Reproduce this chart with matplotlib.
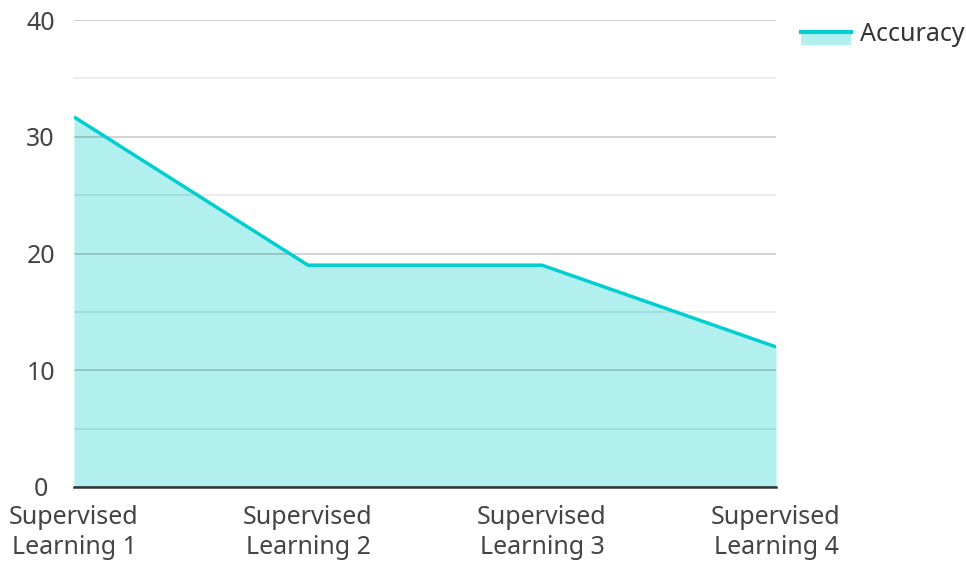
import matplotlib.pyplot as plt
from matplotlib.legend_handler import HandlerBase
from matplotlib.patches import Rectangle
from matplotlib.lines import Line2D

categories = ["Supervised\nLearning 1", "Supervised\nLearning 2",
              "Supervised\nLearning 3", "Supervised\nLearning 4"]
accuracy = [31.7, 19, 19, 12]

plt.rcParams['font.family'] = ['Noto Sans', 'DejaVu Sans']

line_c = "#00CED1"
fill_c = "#B2EFEF"


class AreaHandler(HandlerBase):
    # line at text middle, filled strip underneath
    def create_artists(self, legend, orig_handle, xdescent, ydescent,
                       width, height, fontsize, trans):
        mid = height * 0.5 - ydescent
        depth = height * 0.8
        rect = Rectangle((-xdescent, mid - depth), width, depth,
                         facecolor=fill_c, edgecolor='none', transform=trans)
        ln = Line2D([-xdescent, -xdescent + width], [mid, mid],
                    color=line_c, lw=3, transform=trans)
        return [rect, ln]


fig = plt.figure(figsize=(9.66, 5.62), dpi=100)
ax = fig.add_axes([74/966, 75/562, 702/966, 467/562])

x = list(range(len(categories)))
ax.fill_between(x, accuracy, 0, color=fill_c, lw=0, zorder=1)
ax.plot(x, accuracy, color=line_c, lw=2.5, zorder=3, solid_capstyle='butt')

ax.set_xlim(0, len(categories) - 1)
ax.set_ylim(0, 40)
ax.set_yticks([0, 10, 20, 30, 40])
ax.set_yticks([5, 15, 25, 35], minor=True)
ax.set_xticks(x)
ax.set_xticklabels(categories, linespacing=1.25)

ax.grid(axis='y', which='major', color='black', alpha=0.2, lw=1.2, zorder=2)
ax.grid(axis='y', which='minor', color='black', alpha=0.09, lw=1.2, zorder=2)
ax.set_axisbelow(False)

for s in ['top', 'right', 'left']:
    ax.spines[s].set_visible(False)
ax.spines['bottom'].set_color('#333333')
ax.spines['bottom'].set_linewidth(1.8)
ax.spines['bottom'].set_zorder(4)

ax.tick_params(axis='both', which='both', length=0, labelsize=18, labelcolor='#444444')
ax.tick_params(axis='y', pad=24)
ax.tick_params(axis='x', pad=13)
for lab in ax.get_yticklabels():
    lab.set_horizontalalignment('center')

leg = fig.legend([object()], ["Accuracy"], loc='upper left',
                 handler_map={object: AreaHandler()},
                 bbox_to_anchor=(801/966, 1 - 22/562), frameon=False,
                 borderpad=0, borderaxespad=0,
                 fontsize=18, handlelength=2.0, handleheight=0.6,
                 handletextpad=0.35, labelcolor='#333333')

fig.savefig("out.png", dpi=100)
